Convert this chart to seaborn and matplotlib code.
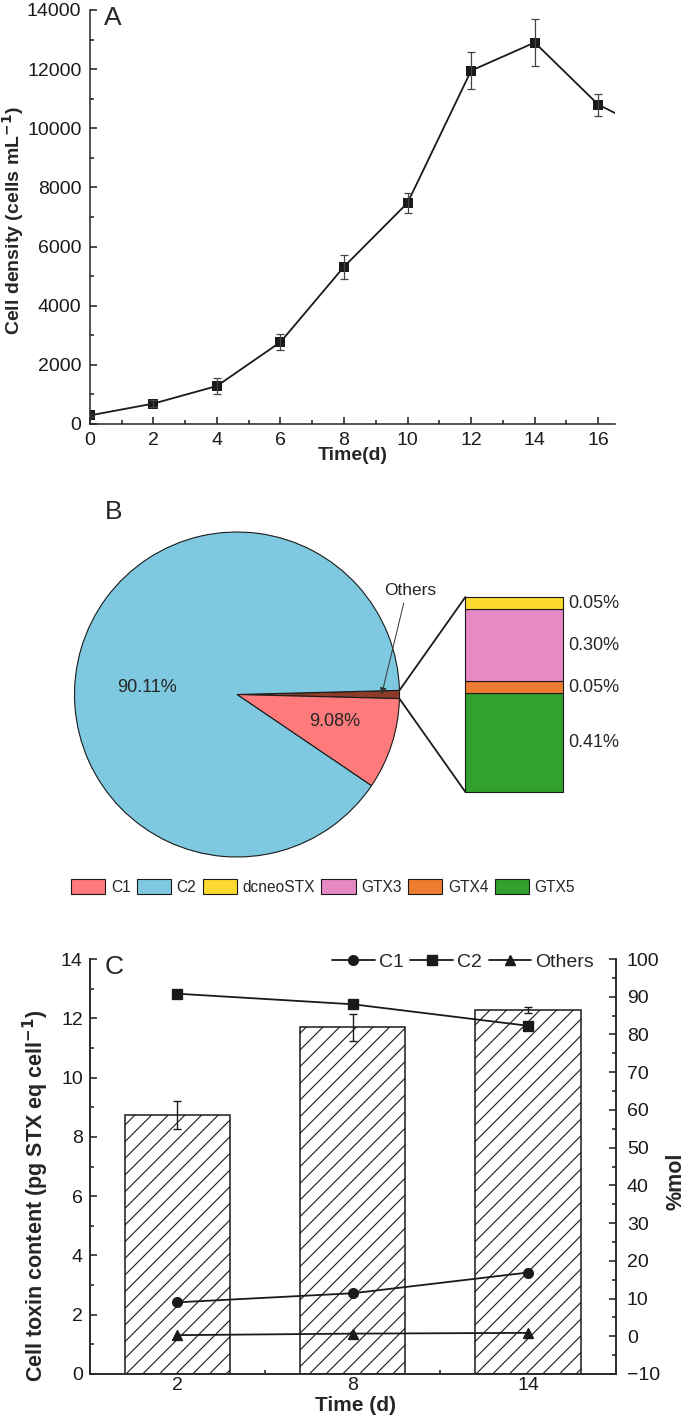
import numpy as np
import matplotlib
matplotlib.use('Agg')
import matplotlib.pyplot as plt
import seaborn as sns
from matplotlib.patches import Patch, ConnectionPatch
from matplotlib.lines import Line2D
from matplotlib.ticker import MultipleLocator

# Panel A: growth curve
days = [0, 2, 4, 6, 8, 10, 12, 14, 16, 18]
density = [290, 690, 1285, 2770, 5320, 7480, 11950, 12900, 10800, 9720]
density_sd = [60, 125, 265, 275, 405, 345, 630, 790, 370, 0]

# Panel B: toxin profile (%mol)
pie_labels = ['Others', 'C1', 'C2']
pie_values = [0.81, 9.08, 90.11]
others_labels = ['GTX5', 'GTX4', 'GTX3', 'dcneoSTX']
others_values = [0.41, 0.05, 0.30, 0.05]

# Panel C: toxin content and composition
sample_days = ['2', '8', '14']
toxin_content = [8.73, 11.70, 12.27]
toxin_sd = [0.47, 0.46, 0.10]
pct_c1 = [9.0, 11.4, 16.9]
pct_c2 = [90.8, 88.0, 82.3]
pct_others = [0.3, 0.7, 0.9]

colors = {'C1': '#FF7B7B', 'C2': '#7EC8E0', 'dcneoSTX': '#FDDA2F',
          'GTX3': '#E68AC4', 'GTX4': '#EE7D31', 'GTX5': '#33A12D',
          'Others': '#8C3B28'}

sns.set_theme(style='ticks')
plt.rcParams['font.family'] = ['Liberation Sans', 'DejaVu Sans']
plt.rcParams['hatch.linewidth'] = 0.8
plt.rcParams['axes.linewidth'] = 1.1

W, H = 685, 1419
fig = plt.figure(figsize=(W / 100, H / 100), dpi=100)


def style_ticks(ax, pad):
    ax.tick_params(which='both', direction='in', width=1.1, labelsize=14,
                   pad=pad, color='k', labelcolor='k')
    ax.tick_params(which='major', length=5)
    ax.tick_params(which='minor', length=3)


# ---------------- Panel A ----------------
ax_a = fig.add_axes([89.8 / W, 1 - 424 / H, 525 / W, 414 / H])
sns.lineplot(x=days, y=density, color='k', marker='s', markersize=6.5,
             markeredgewidth=0, linewidth=1.3, ax=ax_a)
ax_a.errorbar(days, density, yerr=density_sd, fmt='none', ecolor='#444444',
              elinewidth=0.9, capsize=3.2, capthick=0.9)
ax_a.set_xlim(0, 16.52)
ax_a.set_ylim(0, 14000)
ax_a.xaxis.set_major_locator(MultipleLocator(2))
ax_a.xaxis.set_minor_locator(MultipleLocator(1))
ax_a.yaxis.set_major_locator(MultipleLocator(2000))
ax_a.yaxis.set_minor_locator(MultipleLocator(1000))
style_ticks(ax_a, 6)
sns.despine(ax=ax_a)
ax_a.set_xlabel('Time(d)', fontsize=14, fontweight='bold')
ax_a.set_ylabel('Cell density (cells mL$^{\\mathbf{-1}}$)', fontsize=14,
                fontweight='bold')
ax_a.xaxis.set_label_coords(0.5, -0.056)
ax_a.yaxis.set_label_coords(-0.121, 0.49)
ax_a.text(0.027, 1.01, 'A', transform=ax_a.transAxes, fontsize=19, va='top')

# ---------------- Panel B ----------------
fig.text(105 / W, 1 - 500 / H, 'B', fontsize=19, va='top')

ax_p = fig.add_axes([58.25 / W, 1 - 873.25 / H, 357.5 / W, 357.5 / H])
total_pie = sum(pie_values)
wedges, _ = ax_p.pie(pie_values, colors=[colors[k] for k in pie_labels],
                     startangle=pie_values[0] / total_pie * 180,
                     counterclock=False,
                     wedgeprops=dict(edgecolor='k', linewidth=0.8))
ax_p.set_xlim(-1.1, 1.1)
ax_p.set_ylim(-1.1, 1.1)

ax_p.text(-0.554, 0.046, f'{pie_values[2]:.2f}%', fontsize=13,
          ha='center', va='center')
ax_p.text(0.603, -0.169, f'{pie_values[1]:.2f}%', fontsize=13,
          ha='center', va='center')

w_oth = wedges[0]
t_top = np.deg2rad(max(w_oth.theta1, w_oth.theta2))
t_bot = np.deg2rad(min(w_oth.theta1, w_oth.theta2))
t_mid = (t_top + t_bot) / 2
ax_p.annotate('Others', xy=(0.89 * np.cos(t_mid), 0.89 * np.sin(t_mid)),
              xytext=(1.065, 0.637), fontsize=12.5, ha='center', va='center',
              arrowprops=dict(arrowstyle='-|>', color='#333333', lw=0.7,
                              mutation_scale=10, relpos=(0.4, 0.0),
                              shrinkA=1, shrinkB=0))

ax_b = fig.add_axes([465.4 / W, 1 - 792 / H, 97.3 / W, 195 / H])
total_oth = sum(others_values)
bottom = 0
for lab, val in zip(others_labels, others_values):
    ax_b.bar(0, val, bottom=bottom, width=1, color=colors[lab],
             edgecolor='k', linewidth=0.8, clip_on=False)
    ax_b.text(0.56, bottom + val / 2, f'{val:.2f}%', fontsize=13,
              ha='left', va='center')
    bottom += val
ax_b.set_xlim(-0.5, 0.5)
ax_b.set_ylim(0, total_oth)
ax_b.axis('off')

for t, yb in [(t_top, total_oth), (t_bot, 0)]:
    con = ConnectionPatch(xyA=(np.cos(t), np.sin(t)), coordsA=ax_p.transData,
                          xyB=(-0.5, yb), coordsB=ax_b.transData,
                          color='k', linewidth=1.3)
    fig.add_artist(con)

legend_order = pie_labels[1:] + others_labels[::-1]
fig.legend(handles=[Patch(facecolor=colors[k], edgecolor='k', linewidth=0.8)
                    for k in legend_order],
           labels=legend_order, loc='center',
           bbox_to_anchor=(323 / W, 1 - 887 / H), ncol=6, fontsize=11.2,
           frameon=False, handlelength=2.2, handleheight=1.1,
           handletextpad=0.37, columnspacing=0.4, borderpad=0)

# ---------------- Panel C ----------------
ax_c = fig.add_axes([89.8 / W, 1 - 1374 / H, 525.9 / W, 415 / H])
sns.barplot(x=sample_days, y=toxin_content, color='white', edgecolor='k',
            linewidth=1.1, width=0.6, errorbar=None, hatch='//', ax=ax_c)
for p in ax_c.patches:
    p.set_facecolor('white')
ax_c.errorbar(np.arange(len(sample_days)), toxin_content, yerr=toxin_sd,
              fmt='none', ecolor='k', elinewidth=1, capsize=3, capthick=1)
ax_c.set_ylim(0, 14)
ax_c.set_xlim(-0.5, len(sample_days) - 0.5)
ax_c.yaxis.set_major_locator(MultipleLocator(2))
ax_c.yaxis.set_minor_locator(MultipleLocator(1))
ax_c.xaxis.set_minor_locator(MultipleLocator(0.5))
style_ticks(ax_c, 2)
ax_c.tick_params(axis='y', pad=5)
ax_c.spines['top'].set_visible(False)
ax_c.set_xlabel('Time (d)', fontsize=15, fontweight='bold')
ax_c.set_ylabel('Cell toxin content (pg STX eq cell$^{\\mathbf{-1}}$)',
                fontsize=15.5, fontweight='bold')
ax_c.xaxis.set_label_coords(0.505, -0.052)
ax_c.yaxis.set_label_coords(-0.074, 0.43)
ax_c.text(0.029, 1.01, 'C', transform=ax_c.transAxes, fontsize=19, va='top')

ax2 = ax_c.twinx()
series = [('C1', pct_c1, 'o'), ('C2', pct_c2, 's'), ('Others', pct_others, '^')]
for name, vals, mk in series:
    sns.pointplot(x=sample_days, y=vals, color='k', marker=mk, markersize=7,
                  linewidth=1.3, errorbar=None, ax=ax2)
ax2.set_ylim(-10, 100)
ax2.set_xlim(-0.5, len(sample_days) - 0.5)
ax2.yaxis.set_major_locator(MultipleLocator(10))
ax2.yaxis.set_minor_locator(MultipleLocator(5))
style_ticks(ax2, 8)
ax2.spines['top'].set_visible(False)
ax2.set_ylabel('%mol', fontsize=15.5, fontweight='bold')
ax2.yaxis.set_label_coords(1.095, 0.465)

handles = [Line2D([], [], color='k', marker=mk, markersize=7, linewidth=1.3)
           for _, _, mk in series]
ax2.legend(handles, [s[0] for s in series], ncol=3, loc='center right',
           bbox_to_anchor=(0.959, 0.993), frameon=False, fontsize=14,
           handlelength=2.2, handletextpad=0.2, columnspacing=0.35,
           borderpad=0, borderaxespad=0)

fig.savefig('out.png', dpi=100)
